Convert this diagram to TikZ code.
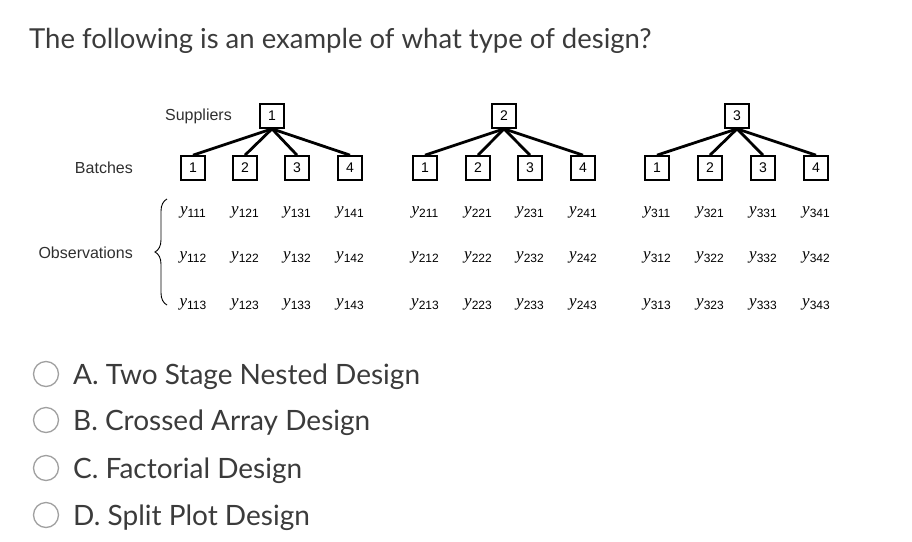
\documentclass[tikz,border=0pt]{standalone}
\usepackage{fontspec}
\setmainfont{Lato}
\newfontfamily\diagfont{Liberation Sans}
\newfontfamily\yfont{Liberation Serif}
\usetikzlibrary{decorations.pathreplacing}
\definecolor{textgray}{HTML}{3B3B3B}
\definecolor{ringgray}{HTML}{A0A0A0}
\newcommand{\obsy}[1]{{\yfont\itshape y}{\fontsize{12}{12}\selectfont\raisebox{-3pt}{#1}}}

\begin{document}
\begin{tikzpicture}[x=1pt, y=-1pt,
  box/.style={draw, line width=1.7pt, minimum size=24pt, inner sep=0pt, font=\diagfont\fontsize{14}{14}\selectfont},
  obs/.style={font=\diagfont\fontsize{17}{17}\selectfont, inner sep=0pt},
  lab/.style={font=\diagfont\fontsize{16}{16}\selectfont, text=textgray!80!black, inner sep=0pt},
  answer/.style={anchor=base west, font=\fontsize{28}{32}\selectfont, text=textgray, inner sep=0pt},
  ring/.style={draw=ringgray, line width=1.3pt, circle, minimum size=25pt, inner sep=0pt},
  tree/.style={line width=2.8pt}]
\useasboundingbox (0,0) rectangle (912,541);

\node[answer, font=\fontsize{27.5}{32}\selectfont] (title) at (29,48) {The following is an example of what type of design?};

\node[lab, anchor=east] (suplab) at (232,116) {Suppliers};
\node[lab, anchor=east] (batlab) at (133,168) {Batches};
\node[lab, anchor=east] (obslab) at (133,253) {Observations};

\node[box] (s1) at (272,116) {1};
\node[box] (s2) at (504,116) {2};
\node[box] (s3) at (737,116) {3};

\node[box] (b11) at (193,168) {1};
\node[box] (b12) at (245,168) {2};
\node[box] (b13) at (297,168) {3};
\node[box] (b14) at (350,168) {4};
\node[box] (b21) at (425,168) {1};
\node[box] (b22) at (478,168) {2};
\node[box] (b23) at (530,168) {3};
\node[box] (b24) at (583,168) {4};
\node[box] (b31) at (657,168) {1};
\node[box] (b32) at (710,168) {2};
\node[box] (b33) at (763,168) {3};
\node[box] (b34) at (816,168) {4};

\draw[tree] (s1.south) -- (b11.north);
\draw[tree] (s1.south) -- (b12.north);
\draw[tree] (s1.south) -- (b13.north);
\draw[tree] (s1.south) -- (b14.north);
\draw[tree] (s2.south) -- (b21.north);
\draw[tree] (s2.south) -- (b22.north);
\draw[tree] (s2.south) -- (b23.north);
\draw[tree] (s2.south) -- (b24.north);
\draw[tree] (s3.south) -- (b31.north);
\draw[tree] (s3.south) -- (b32.north);
\draw[tree] (s3.south) -- (b33.north);
\draw[tree] (s3.south) -- (b34.north);

\node[obs] (y111) at (193,212) {\obsy{111}};
\node[obs] (y121) at (245,212) {\obsy{121}};
\node[obs] (y131) at (297,212) {\obsy{131}};
\node[obs] (y141) at (350,212) {\obsy{141}};
\node[obs] (y211) at (425,212) {\obsy{211}};
\node[obs] (y221) at (478,212) {\obsy{221}};
\node[obs] (y231) at (530,212) {\obsy{231}};
\node[obs] (y241) at (583,212) {\obsy{241}};
\node[obs] (y311) at (657,212) {\obsy{311}};
\node[obs] (y321) at (710,212) {\obsy{321}};
\node[obs] (y331) at (763,212) {\obsy{331}};
\node[obs] (y341) at (816,212) {\obsy{341}};

\node[obs] (y112) at (193,257) {\obsy{112}};
\node[obs] (y122) at (245,257) {\obsy{122}};
\node[obs] (y132) at (297,257) {\obsy{132}};
\node[obs] (y142) at (350,257) {\obsy{142}};
\node[obs] (y212) at (425,257) {\obsy{212}};
\node[obs] (y222) at (478,257) {\obsy{222}};
\node[obs] (y232) at (530,257) {\obsy{232}};
\node[obs] (y242) at (583,257) {\obsy{242}};
\node[obs] (y312) at (657,257) {\obsy{312}};
\node[obs] (y322) at (710,257) {\obsy{322}};
\node[obs] (y332) at (763,257) {\obsy{332}};
\node[obs] (y342) at (816,257) {\obsy{342}};

\node[obs] (y113) at (193,304) {\obsy{113}};
\node[obs] (y123) at (245,304) {\obsy{123}};
\node[obs] (y133) at (297,304) {\obsy{133}};
\node[obs] (y143) at (350,304) {\obsy{143}};
\node[obs] (y213) at (425,304) {\obsy{213}};
\node[obs] (y223) at (478,304) {\obsy{223}};
\node[obs] (y233) at (530,304) {\obsy{233}};
\node[obs] (y243) at (583,304) {\obsy{243}};
\node[obs] (y313) at (657,304) {\obsy{313}};
\node[obs] (y323) at (710,304) {\obsy{323}};
\node[obs] (y333) at (763,304) {\obsy{333}};
\node[obs] (y343) at (816,304) {\obsy{343}};

\coordinate (brtop) at (167,199);
\coordinate (brbot) at (167,305);
\draw[line width=0.9pt, decorate, decoration={brace, amplitude=12pt}] (brbot) -- (brtop);

\node[ring] (ra) at (46,374) {};
\node[ring] (rb) at (46,420) {};
\node[ring] (rc) at (46,468) {};
\node[ring] (rd) at (46,515) {};
\node[answer] (opta) at (73,384) {A. Two Stage Nested Design};
\node[answer] (optb) at (73,430) {B. Crossed Array Design};
\node[answer] (optc) at (73,478) {C. Factorial Design};
\node[answer] (optd) at (73,525) {D. Split Plot Design};
\end{tikzpicture}
\end{document}
